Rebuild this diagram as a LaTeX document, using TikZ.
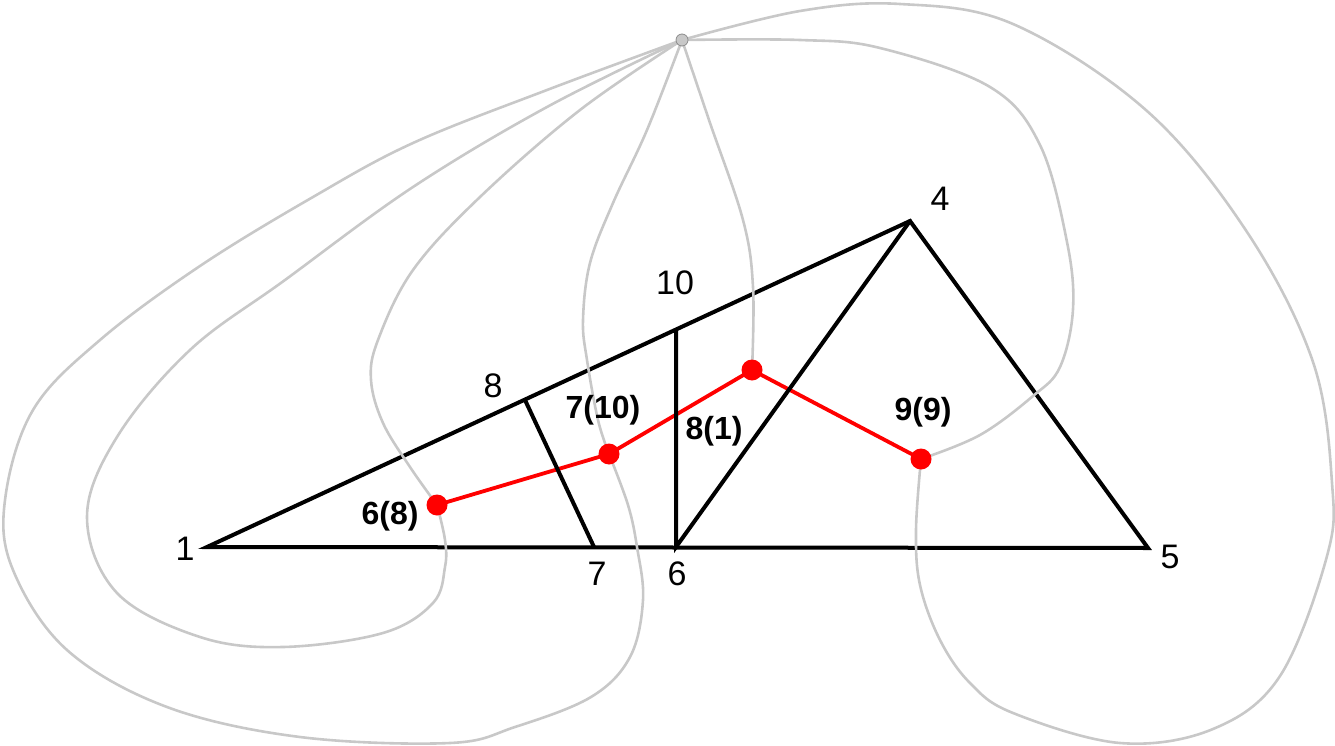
\documentclass[tikz,border=0pt]{standalone}
\usepackage{fontspec}
\setmainfont{Liberation Sans}
\definecolor{curvegray}{HTML}{C8C8C8}
\definecolor{nodeedge}{HTML}{8C8C8C}
\definecolor{dualred}{HTML}{FF0000}
\begin{document}
\begin{tikzpicture}[x=1pt,y=-1pt,
  edgeline/.style={line width=4pt,black,line cap=round,line join=miter},
  dualcurve/.style={line width=2.6pt,curvegray},
  redline/.style={line width=3.8pt,dualred},
  reddot/.style={circle,fill=dualred,inner sep=0pt,minimum size=21pt},
  topdot/.style={circle,fill=curvegray,draw=nodeedge,line width=0.8pt,inner sep=0pt,minimum size=12pt},
  vlabel/.style={font=\fontsize{34}{36}\selectfont,inner sep=0pt},
  flabel/.style={font=\fontsize{32}{34}\selectfont\bfseries,inner sep=0pt}]
\useasboundingbox (0,0) rectangle (1335,746);
% vertices
\coordinate (v1) at (207,547);
\coordinate (v4) at (910,221);
\coordinate (v5) at (1148,548);
\coordinate (v6) at (676,547);
\coordinate (v7) at (594,547);
\coordinate (v8) at (525,400);
\coordinate (v10) at (676,330);
% dual vertices
\coordinate (d1) at (437,505);
\coordinate (d2) at (609,454);
\coordinate (d3) at (752,370);
\coordinate (d4) at (921,459);
\coordinate (top) at (682,40);
% red dual path
\draw[redline] (d1) -- (d2) -- (d3) -- (d4);
% black triangulation
\draw[edgeline] (v1) -- (v4) -- (v5) -- cycle;
\draw[edgeline] (v8) -- (v7);
\draw[edgeline] (v10) -- (v6) -- (v4);
% gray dual curves
\draw[dualcurve] plot[smooth,tension=0.6] coordinates {(top) (547,90) (413,143) (313,197) (200,266) (100,340) (33,410) (5,500) (13,570) (67,650) (167,707) (300,737) (450,743) (515,727) (591,697) (630,657) (643,600) (637,547) (628,505) (d2)};
\draw[dualcurve] plot[smooth,tension=0.6] coordinates {(top) (547,107) (413,187) (285,280) (190,350) (117,437) (87,517) (117,593) (200,637) (283,647) (383,633) (433,603) (445,567) (445,540) (d1)};
\draw[dualcurve] plot[smooth,tension=0.6] coordinates {(top) (580,110) (480,197) (413,270) (378,340) (371,380) (383,423) (410,467) (d1)};
\draw[dualcurve] plot[smooth,tension=0.6] coordinates {(top) (647,130) (613,203) (590,263) (583,320) (587,360) (598,420) (d2)};
\draw[dualcurve] plot[smooth,tension=0.6] coordinates {(top) (709,120) (743,220) (753,287) (d3)};
\draw[dualcurve] plot[smooth,tension=0.6] coordinates {(top) (800,40) (880,48) (990,87) (1040,145) (1067,242) (1073,309) (1060,367) (1033,396) (980,435) (d4)};
\draw[dualcurve] plot[smooth,tension=0.6] coordinates {(top) (800,11) (900,4) (1013,24) (1147,111) (1247,232) (1313,362) (1332,483) (1327,556) (1280,676) (1213,729) (1120,743) (1013,713) (970,683) (940,640) (920,585) (916,530) (d4)};
% dots
\node[topdot] (tn) at (top) {};
\node[reddot] (n1) at (d1) {};
\node[reddot] (n2) at (d2) {};
\node[reddot] (n3) at (d3) {};
\node[reddot] (n4) at (d4) {};
% vertex labels
\node[vlabel] (l1) at (185,549) {1};
\node[vlabel] (l4) at (940,199) {4};
\node[vlabel] (l5) at (1170,557) {5};
\node[vlabel] (l6) at (677,574) {6};
\node[vlabel] (l7) at (597,574) {7};
\node[vlabel] (l8) at (493,386) {8};
\node[vlabel] (l10) at (675,283) {10};
% face labels
\node[flabel] (f1) at (390,516) {6(8)};
\node[flabel] (f2) at (603,410) {7(10)};
\node[flabel] (f3) at (714,431) {8(1)};
\node[flabel] (f4) at (923,412) {9(9)};
\end{tikzpicture}
\end{document}
